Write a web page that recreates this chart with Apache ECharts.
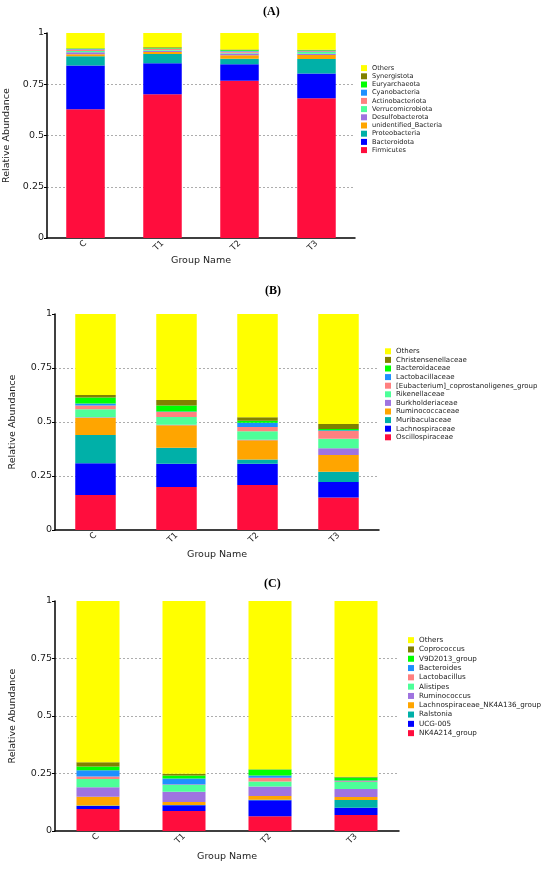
<!DOCTYPE html>
<html>
<head>
<meta charset="utf-8">
<script src="https://cdn.jsdelivr.net/npm/echarts@6/dist/echarts.min.js"></script>
<style>
  html, body { margin: 0; padding: 0; background: #fff; }
  #main { width: 550px; height: 870px; }
</style>
</head>
<body>
<div id="main"></div>
<script>
const groups = ['C', 'T1', 'T2', 'T3'];
const tickValues = [0, 0.25, 0.5, 0.75, 1];

// taxa listed bottom of stack first
const phylumNames = ['Firmicutes', 'Bacteroidota', 'Proteobacteria', 'unidentified_Bacteria', 'Desulfobacterota',
  'Verrucomicrobiota', 'Actinobacteriota', 'Cyanobacteria', 'Euryarchaeota', 'Synergistota', 'Others'];
const phylumValues = [
  [0.628, 0.701, 0.767, 0.682],
  [0.214, 0.151, 0.080, 0.121],
  [0.044, 0.045, 0.027, 0.070],
  [0.010, 0.010, 0.018, 0.020],
  [0.010, 0.006, 0.008, 0.006],
  [0.006, 0.004, 0.004, 0.008],
  [0.008, 0.006, 0.006, 0.004],
  [0.002, 0.002, 0.004, 0.002],
  [0.002, 0.002, 0.003, 0.003],
  [0.002, 0.003, 0.002, 0.002],
  [0.074, 0.070, 0.081, 0.082]
];

const familyNames = ['Oscillospiraceae', 'Lachnospiraceae', 'Muribaculaceae', 'Ruminococcaceae', 'Burkholderiaceae',
  'Rikenellaceae', '[Eubacterium]_coprostanoligenes_group', 'Lactobacillaceae', 'Bacteroidaceae', 'Christensenellaceae', 'Others'];
const familyValues = [
  [0.162, 0.199, 0.208, 0.150],
  [0.147, 0.108, 0.099, 0.072],
  [0.131, 0.074, 0.019, 0.048],
  [0.080, 0.104, 0.089, 0.077],
  [0.002, 0.002, 0.003, 0.031],
  [0.037, 0.036, 0.039, 0.045],
  [0.017, 0.023, 0.020, 0.035],
  [0.010, 0.003, 0.020, 0.004],
  [0.028, 0.027, 0.009, 0.006],
  [0.011, 0.026, 0.016, 0.023],
  [0.375, 0.398, 0.478, 0.509]
];

const genusNames = ['NK4A214_group', 'UCG-005', 'Ralstonia', 'Lachnospiraceae_NK4A136_group', 'Ruminococcus',
  'Alistipes', 'Lactobacillus', 'Bacteroides', 'V9D2013_group', 'Coprococcus', 'Others'];
const genusValues = [
  [0.096, 0.087, 0.064, 0.070],
  [0.013, 0.025, 0.070, 0.031],
  [0.002, 0.001, 0.002, 0.034],
  [0.038, 0.013, 0.016, 0.013],
  [0.041, 0.045, 0.041, 0.035],
  [0.036, 0.029, 0.022, 0.030],
  [0.011, 0.002, 0.017, 0.003],
  [0.027, 0.026, 0.009, 0.004],
  [0.016, 0.013, 0.026, 0.013],
  [0.019, 0.008, 0.002, 0.003],
  [0.701, 0.751, 0.731, 0.764]
];

const palette = ['#FF0D3D', '#0000FF', '#00B0A8', '#FFA500', '#9F73E0', '#4DFF99',
  '#FF8080', '#1E90FF', '#00FF00', '#808000', '#FFFF00'];

const font = 'DejaVu Sans';

const panels = [
  { title: '(A)', names: phylumNames, values: phylumValues,
    grid: { left: 47, top: 33, width: 308, height: 205 }, titlePos: [263, 6],
    legendPos: [361, 64], legendFont: 6.6, legendLine: 8.2, yGap: 35, xGap: 17 },
  { title: '(B)', names: familyNames, values: familyValues,
    grid: { left: 55, top: 314, width: 324, height: 216 }, titlePos: [265, 285],
    legendPos: [385, 347], legendFont: 7, legendLine: 8.6, yGap: 37, xGap: 20 },
  { title: '(C)', names: genusNames, values: genusValues,
    grid: { left: 55, top: 601, width: 344, height: 230 }, titlePos: [264, 578],
    legendPos: [408, 635.5], legendFont: 7.2, legendLine: 9.3, yGap: 37, xGap: 21 }
];

const option = {
  animation: false,
  backgroundColor: '#fff',
  title: [], grid: [], xAxis: [], yAxis: [], legend: [], series: []
};

panels.forEach((p, i) => {
  option.title.push({
    text: p.title, left: p.titlePos[0], top: p.titlePos[1], padding: 0,
    textStyle: { fontFamily: 'Liberation Serif', fontWeight: 'bold', fontSize: 12, color: '#000' }
  });
  option.grid.push(Object.assign({ outerBoundsMode: 'none', containLabel: false }, p.grid));
  option.xAxis.push({
    type: 'category', gridIndex: i, data: groups,
    name: 'Group Name', nameLocation: 'middle', nameGap: p.xGap,
    nameTextStyle: { fontFamily: font, fontSize: 9.5, color: '#222' },
    axisLine: { lineStyle: { color: '#000', width: 1.5 } },
    axisTick: { length: 3, lineStyle: { color: '#000' } },
    axisLabel: { rotate: 45, fontFamily: font, fontSize: 8.5, color: '#222', margin: 4 }
  });
  option.yAxis.push({
    type: 'value', gridIndex: i, min: 0, max: 1, interval: 0.25,
    name: 'Relative Abundance', nameLocation: 'middle', nameGap: p.yGap,
    nameTextStyle: { fontFamily: font, fontSize: 9.5, color: '#222' },
    axisLine: { show: true, lineStyle: { color: '#000', width: 1.5 } },
    axisTick: { show: true, length: 3, lineStyle: { color: '#000' } },
    axisLabel: {
      fontFamily: font, fontSize: 9.5, color: '#222', margin: 3,
      formatter: v => tickValues.includes(v) ? String(v) : ''
    },
    splitLine: { show: true, showMinLine: false, showMaxLine: false,
      lineStyle: { type: [2, 2], color: '#999', width: 0.8 } }
  });
  option.legend.push({
    data: p.names.slice().reverse(),
    orient: 'vertical', left: p.legendPos[0], top: p.legendPos[1], padding: 0,
    icon: 'rect', itemWidth: 6, itemHeight: 6, itemGap: 0,
    selectedMode: false,
    textStyle: { fontFamily: font, fontSize: p.legendFont, color: '#222',
      lineHeight: p.legendLine }
  });
  p.names.forEach((name, k) => {
    option.series.push({
      name: name, type: 'bar', stack: 'panel' + i,
      xAxisIndex: i, yAxisIndex: i, barWidth: '50%',
      itemStyle: { color: palette[k] },
      data: p.values[k]
    });
  });
});

const chart = echarts.init(document.getElementById('main'), null, { renderer: 'canvas' });
chart.setOption(option);
</script>
</body>
</html>
